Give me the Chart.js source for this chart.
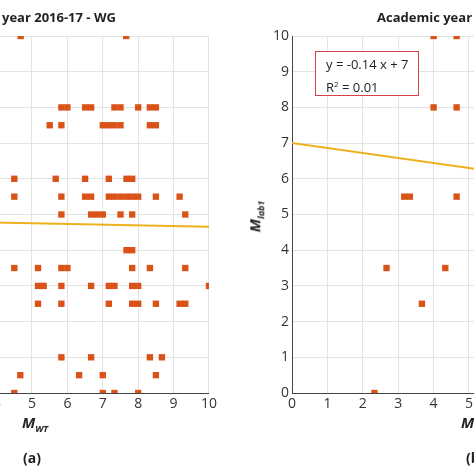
<!DOCTYPE html>
<html>
<head>
<meta charset="utf-8">
<script src="https://cdn.jsdelivr.net/npm/chart.js@4"></script>
<style>
  html, body { margin: 0; width: 474px; height: 474px; overflow: hidden; background: #fff; font-family: "Open Sans", sans-serif; }
  .box { position: absolute; top: 0; width: 420px; height: 474px; }
  .lbl { position: absolute; color: #222; white-space: nowrap; }
</style>
</head>
<body>
<div class="box" style="left:-200px"><canvas id="chartA"></canvas></div>
<div class="box" style="left:237px"><canvas id="chartB"></canvas></div>

<div class="lbl" style="right:474px;top:8px;font-weight:bold;font-size:13px">Academic&nbsp;</div>
<div class="lbl" style="left:2px;top:8px;font-weight:bold;font-size:13px">year 2016-17 - WG</div>
<div class="lbl" style="left:377px;top:8px;font-weight:bold;font-size:13px">Academic year 2016-17 - WG</div>
<div class="lbl" style="left:22px;top:412px;font-weight:bold;font-style:italic;font-size:15px">M<sub style="font-size:9px">WT</sub></div>
<div class="lbl" style="left:461px;top:412px;font-weight:bold;font-style:italic;font-size:15px">M<sub style="font-size:9px">WT</sub></div>
<div class="lbl" style="left:23px;top:448px;font-weight:bold;font-size:14px">(a)</div>
<div class="lbl" style="left:466px;top:448px;font-weight:bold;font-size:14px">(b)</div>
<div class="lbl" style="left:240px;top:205px;transform:rotate(-90deg);font-weight:bold;font-style:italic;font-size:15px">M<sub style="font-size:9px">lab1</sub></div>
<div class="lbl" style="left:315px;top:51px;width:104px;height:45px;border:1.5px solid #d9404a;background:#fff;font-size:13px;line-height:19px;padding:3px 0 0 10px;box-sizing:border-box">y = -0.14 x + 7<br>R<sup style="font-size:8px">2</sup> = 0.01</div>

<script>
// left panel (a): M_WT vs mark
const leftX = [4.68, 7.66,
  5.83, 6.0, 6.5, 6.67, 7.33, 7.5, 8.0, 8.33, 8.5,
  5.5, 5.83, 7.0, 7.17, 7.33, 7.5, 8.33, 8.5,
  4.5, 5.67, 6.5, 7.17, 7.67, 7.83,
  4.5, 5.83, 6.5, 6.67, 7.17, 7.33, 7.5, 7.67, 7.83, 8.0, 8.5, 9.17,
  5.83, 6.67, 6.83, 7.0, 7.5, 7.83, 9.33,
  7.67, 7.83,
  4.5, 5.17, 5.83, 6.0, 7.83, 8.33, 9.33,
  5.17, 5.33, 5.83, 6.67, 7.17, 7.33, 7.83, 8.0, 10,
  5.17, 5.83, 7.17, 7.83, 8.0, 8.5, 9.17, 9.33,
  5.83, 6.67, 8.33, 8.67,
  4.67, 6.33, 7.0, 8.5,
  4.5, 7.0, 7.33, 8.0];
const leftY = [10, 10,
  8, 8, 8, 8, 8, 8, 8, 8, 8,
  7.5, 7.5, 7.5, 7.5, 7.5, 7.5, 7.5, 7.5,
  6, 6, 6, 6, 6, 6,
  5.5, 5.5, 5.5, 5.5, 5.5, 5.5, 5.5, 5.5, 5.5, 5.5, 5.5, 5.5,
  5, 5, 5, 5, 5, 5, 5,
  4, 4,
  3.5, 3.5, 3.5, 3.5, 3.5, 3.5, 3.5,
  3, 3, 3, 3, 3, 3, 3, 3, 3,
  2.5, 2.5, 2.5, 2.5, 2.5, 2.5, 2.5, 2.5,
  1, 1, 1, 1,
  0.5, 0.5, 0.5, 0.5,
  0, 0, 0, 0];
const leftFitX = [0, 10];
const leftFitY = [4.85, 4.66];

// right panel (b)
const rightX = [4.0, 4.65, 4.0, 4.65, 3.17, 3.33, 4.65, 2.67, 4.33, 3.67, 2.33];
const rightY = [10, 10, 8, 8, 5.5, 5.5, 5.5, 3.5, 3.5, 2.5, 0];
const rightFitX = [0, 10];
const rightFitY = [7, 5.6];

const ticks = [0, 1, 2, 3, 4, 5, 6, 7, 8, 9, 10];
const dotColor = "#d95319";
const lineColor = "#edb120";

function pts(xs, ys) {
  return xs.map((x, i) => ({ x: x, y: ys[i] }));
}

function makeChart(id, xs, ys, fx, fy, padRight) {
  const axis = (w, h) => ({
    type: "linear", min: 0, max: 10,
    afterBuildTicks: (s) => { s.ticks = ticks.map((v) => ({ value: v })); },
    afterFit: (s) => { if (w) s.width = w; if (h) s.height = h; },
    grid: { color: "#e3e3e3", tickLength: 0 },
    border: { color: "#444" },
    ticks: { color: "#333", font: { size: 14, family: "Open Sans" }, padding: 3 },
  });
  new Chart(document.getElementById(id), {
    type: "scatter",
    data: {
      datasets: [
        {
          data: pts(fx, fy), showLine: true, pointRadius: 0,
          borderColor: lineColor, borderWidth: 2,
        },
        {
          data: pts(xs, ys), pointStyle: "rect", pointRadius: 4.5,
          backgroundColor: dotColor, borderColor: dotColor, borderWidth: 0,
        },
      ],
    },
    options: {
      responsive: true, maintainAspectRatio: false, animation: false,
      layout: { padding: { top: 36, right: padRight, left: 0, bottom: 0 } },
      plugins: { legend: { display: false }, tooltip: { enabled: false } },
      scales: { x: axis(0, 81), y: axis(55, 0) },
    },
  });
}

makeChart("chartA", leftX, leftY, leftFitX, leftFitY, 11);
makeChart("chartB", rightX, rightY, rightFitX, rightFitY, 6);
</script>
</body>
</html>
